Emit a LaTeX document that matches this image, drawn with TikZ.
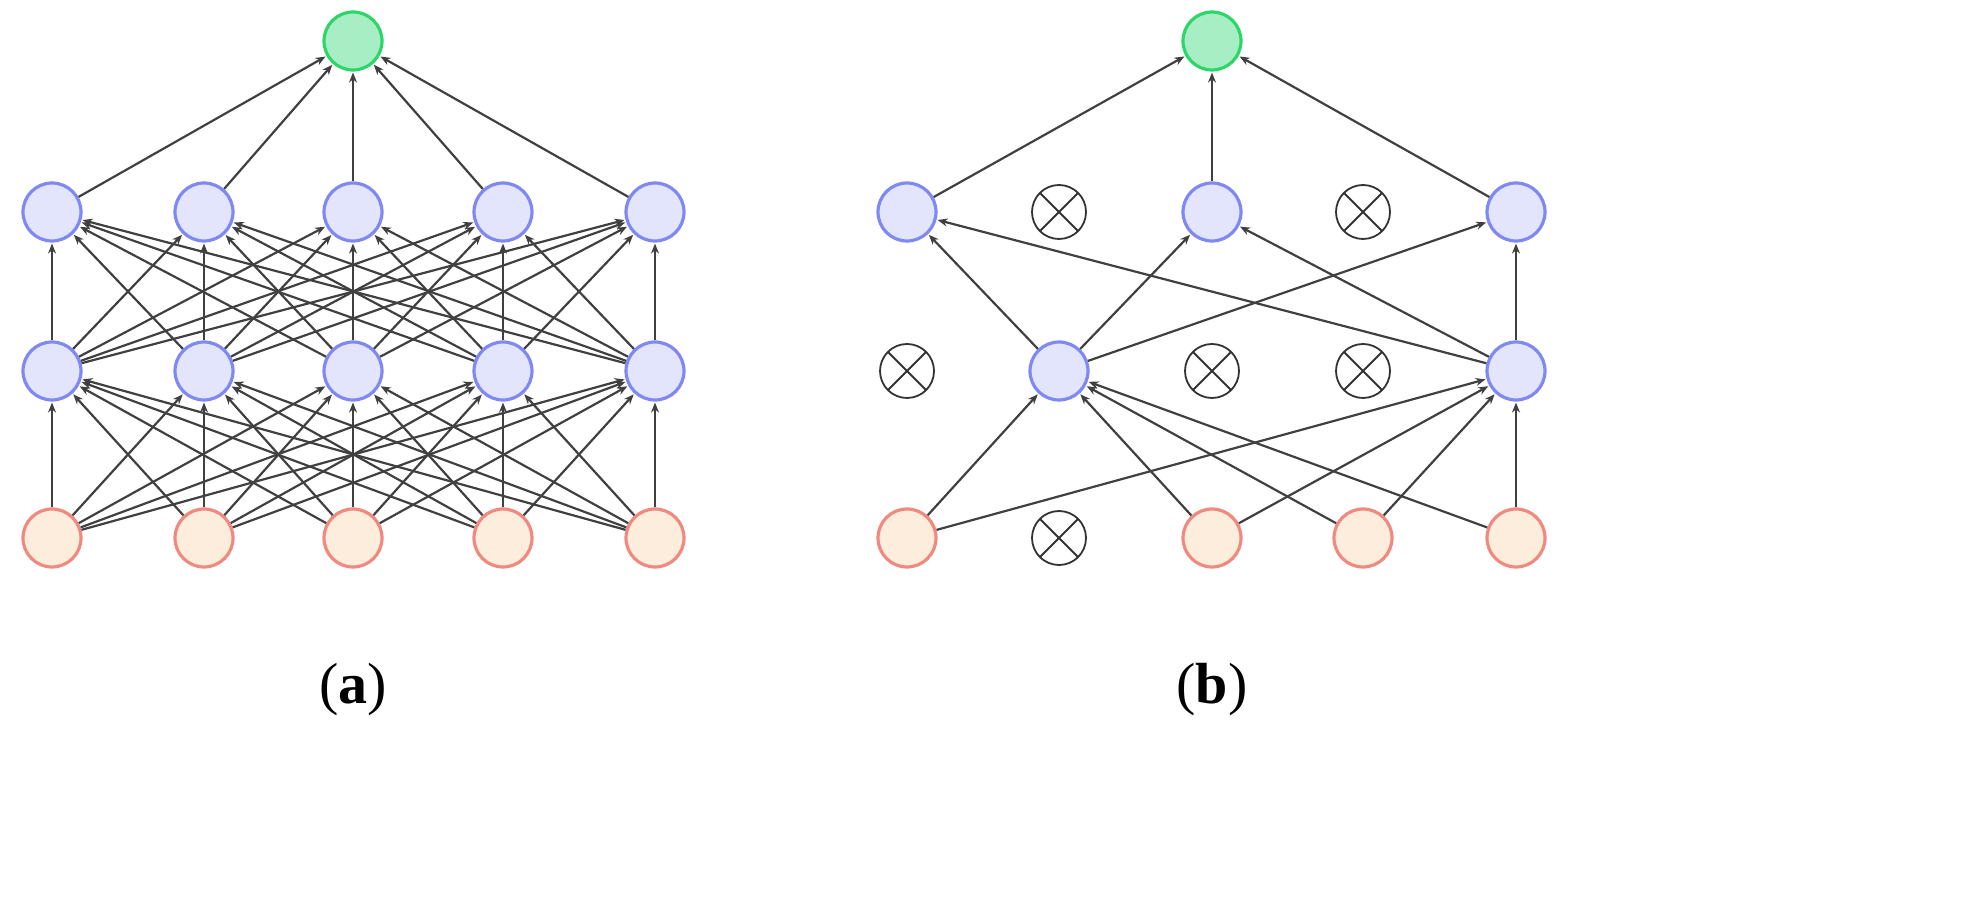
\documentclass[tikz,border=0pt]{standalone}
\usepackage{fontspec}
\setmainfont{Liberation Serif}
\usetikzlibrary{arrows.meta}
\definecolor{bfill}{HTML}{E2E5FB}\definecolor{bline}{HTML}{8088F2}
\definecolor{ofill}{HTML}{FDEDDC}\definecolor{oline}{HTML}{F08A80}
\definecolor{gfill}{HTML}{A8EEC4}\definecolor{gline}{HTML}{2ED66A}
\tikzset{
 neu/.style={circle,minimum size=29pt,inner sep=0pt,line width=1.6pt},
 hid/.style={neu,draw=bline,fill=bfill},
 inp/.style={neu,draw=oline,fill=ofill},
 outn/.style={neu,draw=gline,fill=gfill},
 drop/.style={circle,minimum size=27pt,inner sep=0pt,draw=black!80,line width=0.9pt,
   path picture={\draw[black!80,line width=0.9pt] (path picture bounding box.north west)++(4pt,-4pt) -- ([shift={(-4pt,4pt)}]path picture bounding box.south east)
   (path picture bounding box.north east)++(-4pt,-4pt) -- ([shift={(4pt,4pt)}]path picture bounding box.south west);}},
 edge/.style={-{Stealth[length=5pt,width=4pt]},line width=1.1pt,black!75,shorten >=0.5pt},
 lab/.style={font=\fontsize{29}{34}\selectfont}
}
\begin{document}
\begin{tikzpicture}[x=0.5pt,y=-0.5pt]
\useasboundingbox (0,0) rectangle (1971,924);
% panel a
\foreach \i/\x in {1/52,2/204,3/353,4/503,5/655}{
 \node[inp] (ai\i) at (\x,538) {};
 \node[hid] (ah\i) at (\x,371) {};
 \node[hid] (ag\i) at (\x,212) {};
}
\node[outn] (ao) at (353,41) {};
\foreach \i in {1,...,5}{
 \draw[edge] (ag\i) -- (ao);
 \foreach \j in {1,...,5}{
  \draw[edge] (ai\i) -- (ah\j);
  \draw[edge] (ah\i) -- (ag\j);
 }}
% panel b
\node[outn] (bo) at (1212,41) {};
\node[hid] (bg1) at (907,212) {};
\node[drop] (bg2) at (1059,212) {};
\node[hid] (bg3) at (1212,212) {};
\node[drop] (bg4) at (1363,212) {};
\node[hid] (bg5) at (1516,212) {};
\node[drop] (bh1) at (907,371) {};
\node[hid] (bh2) at (1059,371) {};
\node[drop] (bh3) at (1212,371) {};
\node[drop] (bh4) at (1363,371) {};
\node[hid] (bh5) at (1516,371) {};
\node[inp] (bi1) at (907,538) {};
\node[drop] (bi2) at (1059,538) {};
\node[inp] (bi3) at (1212,538) {};
\node[inp] (bi4) at (1363,538) {};
\node[inp] (bi5) at (1516,538) {};
\foreach \g in {bg1,bg3,bg5}{\draw[edge] (\g) -- (bo);}
\foreach \g in {bg1,bg3,bg5}{\draw[edge] (bh2) -- (\g); \draw[edge] (bh5) -- (\g);}
\foreach \i in {bi1,bi3,bi4,bi5}{\draw[edge] (\i) -- (bh2); \draw[edge] (\i) -- (bh5);}
% labels
\node[lab] (la) at (353,690) {(\textbf{a})};
\node[lab] (lb) at (1212,690) {(\textbf{b})};
\end{tikzpicture}
\end{document}
